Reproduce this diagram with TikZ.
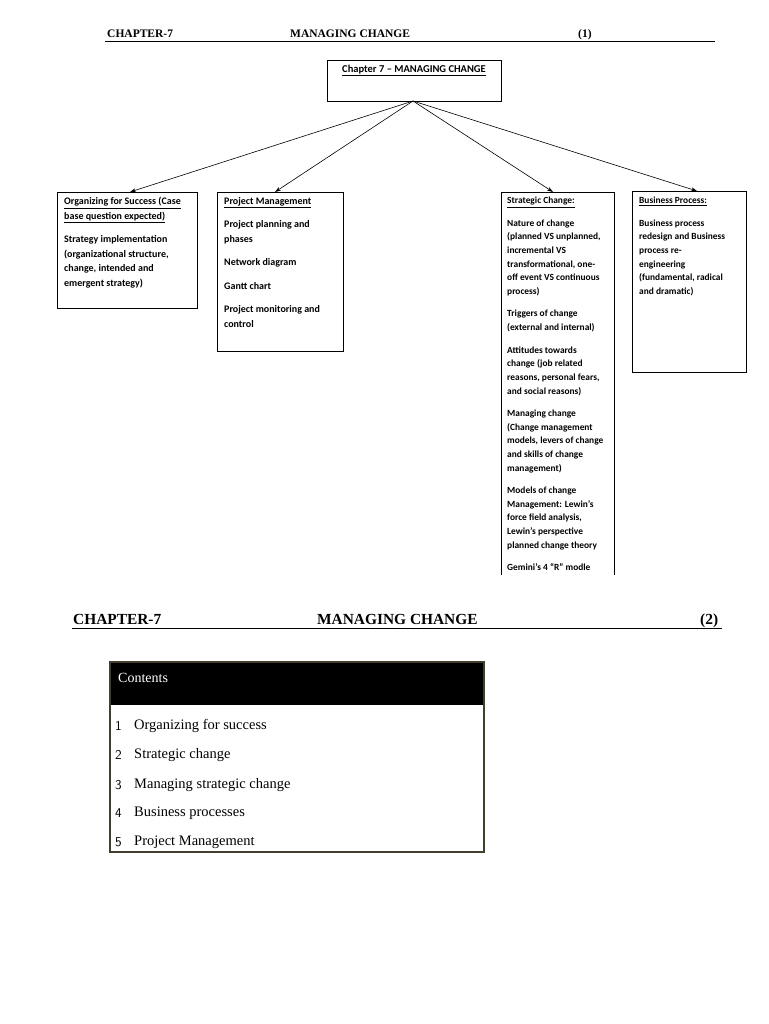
\documentclass[tikz,border=0pt]{standalone}
\usepackage{fontspec}
\setmainfont{Liberation Serif}
\newfontfamily\calfont{Carlito}
\usetikzlibrary{arrows.meta}
\tikzset{
 bx/.style={draw,line width=0.8pt},
 txt/.style={anchor=north west,inner sep=0pt,align=left,font=\calfont\bfseries\fontsize{10}{14.5}\selectfont},
 txtb/.style={anchor=north west,inner sep=0pt,align=left,font=\calfont\bfseries\fontsize{9.4}{13.6}\selectfont},
 arr/.style={-{Stealth[length=6pt,width=4pt]},line width=0.6pt},
 hd/.style={font=\bfseries\fontsize{11.5}{13}\selectfont,inner sep=0pt},
 hd2/.style={font=\bfseries\fontsize{15.4}{17}\selectfont,inner sep=0pt},
 item/.style={anchor=west,inner sep=0pt,font=\fontsize{14.5}{16}\selectfont}
}
\newcommand{\myul}[1]{\underline{#1}}
\begin{document}
\begin{tikzpicture}[x=1pt,y=-1pt]
\useasboundingbox (0,0) rectangle (768,1024);
% header 1
\node[hd,anchor=base west] (h1a) at (107,38) {CHAPTER-7};
\node[hd,anchor=base west] (h1b) at (290,38) {MANAGING CHANGE};
\node[hd,anchor=base west] (h1c) at (578,38) {(1)};
\draw[line width=0.7pt] (105,41.5) -- (715,41.5);
% top box
\node[bx,minimum width=174,minimum height=41,anchor=north west] (top) at (327,60) {};
\node[anchor=north,inner sep=0pt,font=\calfont\bfseries\fontsize{10.5}{12}\selectfont] (toptxt) at (414,65) {\myul{Chapter 7 – MANAGING CHANGE}};
\coordinate (o) at (413,101);
% boxes
\node[bx,minimum width=140,minimum height=116,anchor=north west] (b1) at (57,192) {};
\node[bx,minimum width=126,minimum height=159,anchor=north west] (b2) at (217,192) {};
\node[bx,minimum width=114,minimum height=181,anchor=north west] (b4) at (632,191) {};
\draw[line width=0.8pt] (501,575) |- (614,192) coordinate (b3tr) -- (614,575);
\coordinate (b3) at (553,192);
\coordinate (a1) at (130,192);
\coordinate (a2) at (275,192);
\coordinate (a4) at (697,191);
\draw[arr] (o) -- (a1);
\draw[arr] (o) -- (a2);
\draw[arr] (o) -- (b3);
\draw[arr] (o) -- (a4);
% texts
\node[txt] (t1) at (64,197) {\myul{Organizing for Success (Case}\\\myul{base question expected)}\\[9pt]
Strategy implementation\\(organizational structure,\\change, intended and\\emergent strategy)};
\node[txt] (t2) at (224,197) {\myul{Project Management}\\[9pt]Project planning and\\phases\\[9pt]Network diagram\\[9pt]Gantt chart\\[9pt]Project monitoring and\\control};
\begin{scope}
\clip (495,185) rectangle (620,576);
\node[txtb] (t3) at (507,197) {\myul{Strategic Change:}\\[9pt]Nature of change\\(planned VS unplanned,\\incremental VS\\transformational, one-\\off event VS continuous\\process)\\[9pt]Triggers of change\\(external and internal)\\[9pt]Attitudes towards\\change (job related\\reasons, personal fears,\\and social reasons)\\[9pt]Managing change\\(Change management\\models, levers of change\\and skills of change\\management)\\[9pt]Models of change\\Management: Lewin’s\\force field analysis,\\Lewin’s perspective\\planned change theory\\[9pt]Gemini’s 4 “R” modle};
\end{scope}
\node[txtb] (t4) at (639,197) {\myul{Business Process:}\\[9pt]Business process\\redesign and Business\\process re-\\engineering\\(fundamental, radical\\and dramatic)};
% header 2
\node[hd2,anchor=base west] (h2a) at (73,624) {CHAPTER-7};
\node[hd2,anchor=base west] (h2b) at (317,624) {MANAGING CHANGE};
\node[hd2,anchor=base west] (h2c) at (700,624) {(2)};
\draw[line width=0.8pt] (72,628.5) -- (722,628.5);
% contents
\fill[black] (110,662) rectangle (484,705);
\node[anchor=west,inner sep=0pt,text=white,font=\fontsize{14}{15}\selectfont] (ch) at (118,678) {Contents};
\draw[line width=1.5pt,color=black!70!olive] (110,662) rectangle (484,852);
\foreach \n/\t/\yy in {1/Organizing for success/726,2/Strategic change/755,3/Managing strategic change/785,4/Business processes/813,5/Project Management/842}{
 \node[item,font=\sffamily\fontsize{13.5}{15}\selectfont] (n\n) at (115,\yy) {\n};
 \node[item] (i\n) at (134,\yy) {\t};
}
\end{tikzpicture}
\end{document}
